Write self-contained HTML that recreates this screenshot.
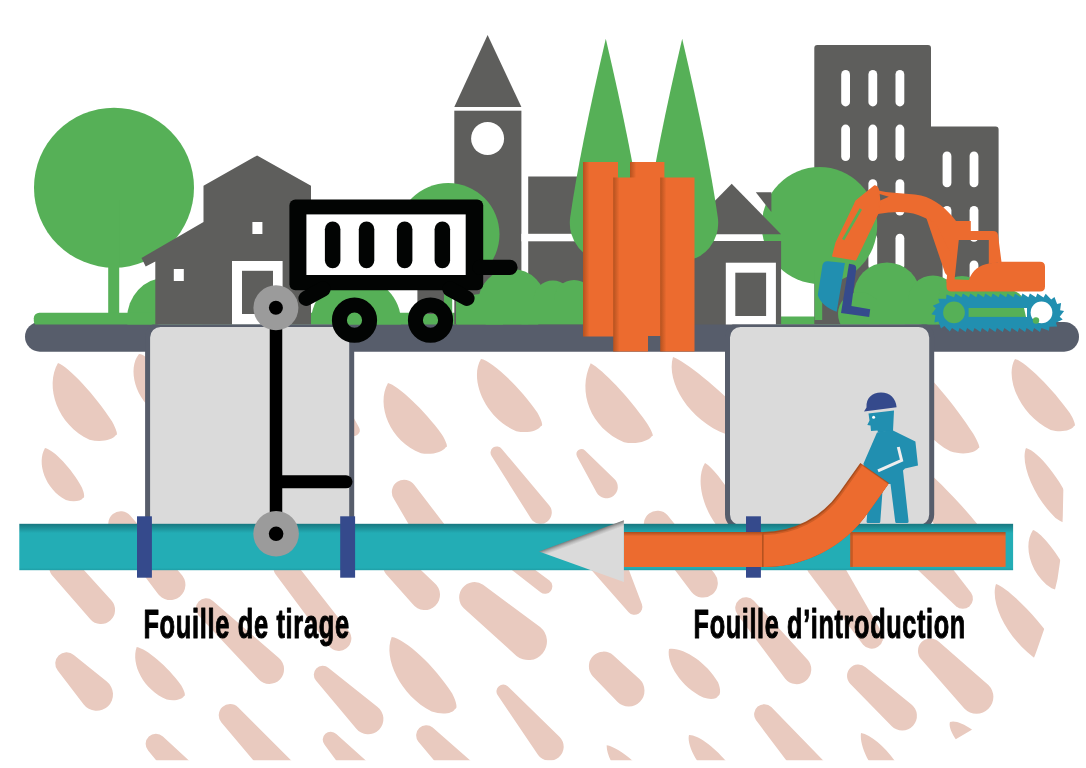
<!DOCTYPE html>
<html lang="fr"><head><meta charset="utf-8"><title>Fouille de tirage / Fouille d’introduction</title>
<style>html,body{margin:0;padding:0;background:#fff}svg{display:block}</style></head>
<body>
<svg width="1086" height="768" viewBox="0 0 1086 768">
<defs>
<clipPath id="sky"><rect x="0" y="0" width="1086" height="324.4"/></clipPath>
<clipPath id="pitc"><rect x="0" y="324.4" width="1086" height="300"/></clipPath>
<clipPath id="soil"><path d="M0 340H1086V440L1064 465L1063.4 487L1062.8 516L1061 555L1057.5 579L1049 615L1037.3 649C1025.3 684 1001.6 712.3 971 730.3L954 740.3C937 750.3 920 760.3 895 760.3H0Z"/></clipPath>
<linearGradient id="tealg" x1="0" y1="0" x2="0" y2="1"><stop offset="0" stop-color="#187780"/><stop offset="0.07" stop-color="#1c8a92"/><stop offset="0.2" stop-color="#23adb5"/><stop offset="0.95" stop-color="#23adb5"/><stop offset="1" stop-color="#1f9da5"/></linearGradient>
<linearGradient id="orgv" x1="0" y1="0" x2="0" y2="1"><stop offset="0" stop-color="#a94d1d"/><stop offset="0.12" stop-color="#ec6b2f"/><stop offset="1" stop-color="#ec6b2f"/></linearGradient>
<linearGradient id="orgh" x1="0" y1="0" x2="1" y2="0"><stop offset="0" stop-color="#b5521f"/><stop offset="0.18" stop-color="#ec6b2f"/><stop offset="1" stop-color="#ec6b2f"/></linearGradient>
<linearGradient id="arr" gradientUnits="userSpaceOnUse" x1="581" y1="536" x2="582.9" y2="541.2"><stop offset="0" stop-color="#7c7c7c"/><stop offset="0.5" stop-color="#b5b5b5"/><stop offset="1" stop-color="#dadada"/></linearGradient>
<filter id="tf" x="-5%" y="-20%" width="110%" height="140%"><feOffset dx="0" dy="0"/></filter>
</defs>
<rect width="1086" height="768" fill="#fff"/>
<g clip-path="url(#soil)" fill="#e9cabf">
<path d="M58.0,363.0 C44.3,386.5 57.5,425.1 89.5,439.7 C100.7,442.6 112.5,440.2 116.0,435.0 C118.2,435.6 116.6,429.7 112.1,421.5 C95.1,394.8 68.6,366.9 58.0,363.0Z"/>
<path d="M45.0,448.0 C36.3,462.9 45.1,489.0 65.9,500.0 C73.1,502.3 80.7,501.3 83.0,498.0 C84.9,498.2 84.5,493.7 82.0,487.7 C71.9,468.6 53.6,449.7 45.0,448.0Z"/>
<path d="M139.0,354.0 C127.1,368.3 135.1,400.4 158.0,413.6 C166.2,416.6 175.1,415.7 178.0,412.0 C180.3,412.1 180.6,406.9 178.5,399.9 C169.2,377.5 148.0,354.2 139.0,354.0Z"/>
<path d="M136.7,647.0 C130.6,664.3 143.5,689.7 166.7,699.5 C174.6,701.3 182.2,699.6 184.0,696.0 C185.9,696.0 184.8,691.4 181.3,685.4 C167.7,666.3 146.6,648.8 136.7,647.0Z"/>
<path d="M388.0,383.0 C375.5,404.8 390.1,441.7 421.0,453.3 C431.8,455.2 442.8,452.2 446.0,447.0 C448.2,447.4 446.5,441.9 441.9,434.4 C424.8,410.3 397.4,385.0 388.0,383.0Z"/>
<path d="M481.0,359.0 C468.8,379.0 485.1,418.1 516.3,431.2 C527.1,433.6 538.0,431.1 541.0,426.0 C543.4,426.3 541.9,420.4 537.3,412.4 C520.0,386.9 490.3,359.7 481.0,359.0Z"/>
<path d="M590.7,363.3 C577.1,391.5 590.3,428.3 624.0,442.2 C635.9,444.6 648.3,441.6 652.0,436.0 C654.1,436.7 652.0,431.1 646.8,422.9 C628.3,396.3 602.8,369.9 590.7,363.3Z"/>
<path d="M391.7,637.0 C382.8,658.2 400.6,695.6 431.7,711.6 C442.3,715.1 452.6,713.7 455.0,709.0 C457.8,709.1 456.7,702.4 452.2,693.6 C434.7,665.6 404.9,638.8 391.7,637.0Z"/>
<path d="M606.7,745.3 C606.2,758.9 621.4,781.3 642.0,794.1 C648.7,797.3 654.4,797.6 655.0,795.0 C657.1,794.9 656.2,789.9 652.7,783.7 C639.3,763.9 618.3,747.1 606.7,745.3Z"/>
<path d="M673.0,357.0 C665.6,381.9 689.7,421.0 726.3,434.3 C738.5,436.6 749.8,433.6 752.0,428.0 C754.3,428.6 751.0,422.8 743.9,414.7 C719.1,388.4 684.5,360.9 673.0,357.0Z"/>
<path d="M705.0,463.0 C693.8,480.9 704.4,519.0 730.4,539.9 C739.5,545.1 749.1,545.9 752.0,542.0 C754.1,542.9 753.4,536.9 750.0,528.2 C737.1,499.5 714.9,468.3 705.0,463.0Z"/>
<path d="M916.0,366.0 C901.6,390.6 916.1,433.4 950.3,451.3 C962.3,455.2 974.8,453.4 978.5,448.0 C980.7,448.9 978.5,442.8 973.3,433.8 C954.4,404.1 926.4,371.7 916.0,366.0Z"/>
<path d="M913.0,460.0 C903.5,484.4 924.8,526.3 960.6,543.6 C972.7,547.3 984.4,545.4 987.0,540.0 C989.2,541.0 985.9,535.1 979.3,526.4 C955.9,497.5 923.6,465.8 913.0,460.0Z"/>
<path d="M669.0,649.0 C666.2,663.7 681.4,687.1 703.3,697.6 C710.5,699.9 717.0,699.0 718.0,696.0 C720.7,695.1 720.9,689.1 718.0,682.3 C705.9,661.6 682.4,646.8 669.0,649.0Z"/>
<path d="M689.0,735.0 C685.9,746.7 702.5,774.3 724.0,788.7 C731.0,792.3 737.1,792.7 738.0,790.0 C740.5,789.7 740.3,784.0 737.2,776.9 C724.5,754.6 699.7,734.3 689.0,735.0Z"/>
<path d="M861.0,733.0 C859.0,746.9 872.2,772.4 891.8,789.0 C898.3,793.3 904.1,794.5 905.0,792.0 C907.5,791.9 907.8,786.2 905.3,778.9 C894.7,755.6 874.2,735.5 861.0,733.0Z"/>
<path d="M950.0,722.0 C947.0,730.0 961.8,751.3 979.0,760.4 C984.6,762.5 989.4,762.2 990.0,760.0 C992.2,759.3 992.3,754.4 990.0,748.8 C980.1,732.0 958.0,718.4 950.0,722.0Z"/>
<path d="M1015.0,359.0 C1004.0,377.6 1020.5,416.0 1050.7,429.9 C1061.0,432.7 1071.3,430.7 1074.0,426.0 C1076.2,426.4 1074.5,420.8 1069.8,413.1 C1052.4,387.9 1023.6,360.4 1015.0,359.0Z"/>
<path d="M1026.0,448.0 C1020.0,462.5 1033.2,496.9 1055.5,517.9 C1063.1,523.4 1070.4,525.1 1072.0,522.0 C1074.7,522.4 1075.0,516.0 1072.4,507.4 C1061.3,479.4 1038.2,451.2 1026.0,448.0Z"/>
<path d="M1033.0,530.0 C1022.6,545.2 1030.1,574.3 1051.6,588.3 C1059.2,591.6 1067.3,591.3 1070.0,588.0 C1071.9,588.4 1071.7,583.6 1069.4,577.0 C1059.8,555.3 1041.8,533.0 1033.0,530.0Z"/>
<path d="M996.0,584.0 C989.3,603.7 1009.2,642.4 1040.1,661.8 C1050.4,666.4 1060.1,666.3 1062.0,662.0 C1064.5,662.5 1062.7,656.0 1057.6,647.0 C1038.3,617.8 1008.1,587.8 996.0,584.0Z"/>
<path d="M577.0,456.4 A5.1,5.1 0 0 1 585.0,450.4 L614.4,478.9 A11.3,11.3 0 1 1 596.6,492.4Z"/>
<path d="M111.1,531.5 A12.4,12.4 0 0 1 130.4,515.8 L181.0,574.0 A15.3,15.3 0 1 1 157.3,593.1Z"/>
<path d="M51.8,574.9 A13.6,13.6 0 0 1 72.1,556.9 L111.5,600.5 A14.1,14.1 0 1 1 90.3,619.3Z"/>
<path d="M275.9,574.8 A11.3,11.3 0 0 1 293.9,561.0 L348.8,630.9 A12.4,12.4 0 1 1 329.0,646.0Z"/>
<path d="M198.6,615.5 A10.2,10.2 0 0 1 212.7,600.8 L278.9,658.1 A14.7,14.7 0 1 1 258.6,679.3Z"/>
<path d="M57.7,670.6 A11.3,11.3 0 0 1 73.8,654.9 L106.8,681.6 A16.4,16.4 0 1 1 83.5,704.3Z"/>
<path d="M221.4,722.6 A11.3,11.3 0 0 1 238.0,707.3 L295.4,764.6 A14.7,14.7 0 1 1 273.8,784.5Z"/>
<path d="M148.1,750.5 A10.2,10.2 0 0 1 162.9,736.5 L199.2,770.0 A13.6,13.6 0 1 1 179.5,788.6Z"/>
<path d="M316.1,680.8 A9.0,9.0 0 0 1 328.6,667.9 L377.3,706.8 A15.3,15.3 0 1 1 356.1,728.5Z"/>
<path d="M324.6,744.7 A7.9,7.9 0 0 1 336.3,734.1 L368.3,762.7 A12.4,12.4 0 1 1 350.0,779.3Z"/>
<path d="M491.7,456.3 A6.2,6.2 0 0 1 501.8,449.0 L549.1,505.2 A11.3,11.3 0 1 1 530.9,518.5Z"/>
<path d="M393.8,498.8 A12.4,12.4 0 0 1 414.4,485.0 L458.5,542.7 A16.9,16.9 0 1 1 430.4,561.5Z"/>
<path d="M500.8,561.3 A6.8,6.8 0 0 1 509.1,550.6 L549.4,580.6 A7.3,7.3 0 1 1 540.5,592.3Z"/>
<path d="M646.2,531.9 A13.6,13.6 0 0 1 667.6,515.2 L714.7,573.8 A14.7,14.7 0 1 1 691.5,591.9Z"/>
<path d="M327.9,412.3 A10.2,10.2 0 1 1 343.9,400.1 L358.9,427.3 A5.6,5.6 0 0 1 350.0,434.0Z"/>
<path d="M385.9,574.0 A13.6,13.6 0 0 1 405.4,555.2 L434.5,583.0 A15.3,15.3 0 1 1 412.6,604.1Z"/>
<path d="M463.8,608.3 A15.3,15.3 0 0 1 483.1,584.7 L540.1,627.0 A18.6,18.6 0 1 1 516.5,655.9Z"/>
<path d="M591.4,569.9 A18.1,18.1 0 1 1 621.9,551.6 L641.9,604.2 A7.9,7.9 0 0 1 628.6,612.2Z"/>
<path d="M497.4,694.8 A6.8,6.8 0 0 1 507.7,686.2 L559.7,736.9 A14.1,14.1 0 1 1 538.1,754.9Z"/>
<path d="M592.7,676.2 A14.7,14.7 0 0 1 613.2,655.2 L639.7,679.3 A15.8,15.8 0 1 1 617.6,702.0Z"/>
<path d="M418.2,741.5 A10.2,10.2 0 0 1 432.7,727.4 L477.7,767.0 A14.7,14.7 0 1 1 456.7,787.4Z"/>
<path d="M737.4,614.4 A10.7,10.7 0 0 1 753.9,600.8 L807.9,660.1 A14.7,14.7 0 1 1 785.2,678.8Z"/>
<path d="M808.5,572.2 A16.9,16.9 0 1 1 836.7,553.6 L881.7,632.0 A11.3,11.3 0 0 1 862.9,644.4Z"/>
<path d="M918.2,570.2 A14.1,14.1 0 1 1 939.2,551.4 L971.1,592.8 A10.2,10.2 0 0 1 956.0,606.3Z"/>
<path d="M850.4,683.9 A11.3,11.3 0 0 1 865.6,667.2 L911.2,704.2 A14.7,14.7 0 1 1 891.5,725.9Z"/>
<path d="M921.6,659.7 A12.4,12.4 0 0 1 939.2,642.1 L988.4,684.9 A16.9,16.9 0 1 1 964.5,708.8Z"/>
<path d="M755.9,720.1 A10.2,10.2 0 0 1 771.3,706.9 L829.0,766.4 A15.3,15.3 0 1 1 805.8,786.2Z"/>
</g>
<rect x="25" y="322" width="1054" height="29.7" rx="14.85" fill="#575d6b"/>
<g clip-path="url(#sky)">
<circle cx="114" cy="187.7" r="80" fill="#56b057"/>
<rect x="108.2" y="200" width="11" height="118" fill="#56b057"/>
<ellipse cx="165" cy="319" rx="38" ry="41" fill="#56b057"/>
<rect x="33.8" y="312.7" width="560" height="14" rx="5.6" fill="#56b057"/>
<rect x="776" y="316.6" width="268" height="10" rx="4" fill="#56b057"/>
<path d="M814.3 324V48q0-3 3-3H928q3 0 3 3V126.4H995.6q3 0 3 3V324Z" fill="#5e5e5c"/>
<rect x="841.2" y="70.0" width="8.8" height="36.4" rx="4.4" fill="#fff"/>
<rect x="841.2" y="124.6" width="8.8" height="36.4" rx="4.4" fill="#fff"/>
<rect x="841.2" y="179.2" width="8.8" height="36.4" rx="4.4" fill="#fff"/>
<rect x="841.2" y="233.8" width="8.8" height="36.4" rx="4.4" fill="#fff"/>
<rect x="868.4" y="70.0" width="8.8" height="36.4" rx="4.4" fill="#fff"/>
<rect x="868.4" y="124.6" width="8.8" height="36.4" rx="4.4" fill="#fff"/>
<rect x="868.4" y="179.2" width="8.8" height="36.4" rx="4.4" fill="#fff"/>
<rect x="868.4" y="233.8" width="8.8" height="36.4" rx="4.4" fill="#fff"/>
<rect x="895.5" y="70.0" width="8.8" height="36.4" rx="4.4" fill="#fff"/>
<rect x="895.5" y="124.6" width="8.8" height="36.4" rx="4.4" fill="#fff"/>
<rect x="895.5" y="179.2" width="8.8" height="36.4" rx="4.4" fill="#fff"/>
<rect x="895.5" y="233.8" width="8.8" height="36.4" rx="4.4" fill="#fff"/>
<rect x="942.6" y="151.5" width="8.8" height="35.8" rx="4.4" fill="#fff"/>
<rect x="942.6" y="206.0" width="8.8" height="35.8" rx="4.4" fill="#fff"/>
<rect x="942.6" y="260.5" width="8.8" height="35.8" rx="4.4" fill="#fff"/>
<rect x="969.6" y="151.5" width="8.8" height="35.8" rx="4.4" fill="#fff"/>
<rect x="969.6" y="206.0" width="8.8" height="35.8" rx="4.4" fill="#fff"/>
<rect x="969.6" y="260.5" width="8.8" height="35.8" rx="4.4" fill="#fff"/>
<path d="M454.3 106.9L487.6 35L521.4 106.9Z" fill="#5e5e5c"/>
<rect x="454.3" y="110.7" width="67.1" height="214" fill="#5e5e5c"/>
<circle cx="487.6" cy="138.5" r="16.5" fill="#fff"/>
<rect x="528.2" y="176.5" width="75" height="148" fill="#5e5e5c"/>
<rect x="521.4" y="233.8" width="80" height="7.5" fill="#fff"/>
<rect x="417.4" y="280" width="26.6" height="34" fill="#5e5e5c"/>
<ellipse cx="819.5" cy="225.5" rx="57.7" ry="58.5" fill="#56b057"/>
<rect x="814.6" y="270" width="7.6" height="50" fill="#56b057"/>
<path d="M755.8 192.3H771.4V212Z" fill="#5e5e5c"/>
<path d="M731.7 183.8L781.1 234.2H682Z" fill="#5e5e5c"/>
<rect x="690" y="241" width="91.1" height="84" fill="#5e5e5c"/>
<rect x="725.8" y="262.7" width="50.1" height="63" fill="#fff"/>
<rect x="735.3" y="272.7" width="30.8" height="43.3" fill="#5e5e5c"/>
<path d="M605.8 38.8Q579.8 150.0 570.1 218.0A36 38 0 1 0 641.5 218.0Q631.8 150.0 605.8 38.8Z" fill="#56b057"/>
<path d="M682.2 38.8Q656.2 150.0 646.5 218.0A36 38 0 1 0 717.9 218.0Q708.2 150.0 682.2 38.8Z" fill="#56b057"/>
<circle cx="448.2" cy="234.3" r="51.3" fill="#56b057"/>
<rect x="444" y="270" width="8.2" height="45" fill="#56b057"/>
<circle cx="356.0" cy="322.0" r="45.0" fill="#56b057"/>
<circle cx="480.0" cy="318.0" r="24.0" fill="#56b057"/>
<circle cx="512.0" cy="303.0" r="34.0" fill="#56b057"/>
<circle cx="552.8" cy="300.0" r="19.4" fill="#56b057"/>
<circle cx="574.0" cy="300.0" r="20.0" fill="#56b057"/>
<circle cx="887.0" cy="296.0" r="33.6" fill="#56b057"/>
<circle cx="860.0" cy="314.0" r="22.0" fill="#56b057"/>
<circle cx="933.0" cy="300.0" r="24.5" fill="#56b057"/>
<circle cx="962.0" cy="300.0" r="24.0" fill="#56b057"/>
<circle cx="990.0" cy="304.0" r="22.0" fill="#56b057"/>
<circle cx="1008.0" cy="308.0" r="18.0" fill="#56b057"/>
<rect x="456" y="300" width="130" height="24" fill="#56b057"/>
<rect x="856" y="300" width="170" height="24" fill="#56b057"/>
<path d="M203.5 185.8L257.1 155.5L311 185.8V325H155.3V261.5L145.7 266.5L141.5 258L203.5 222Z" fill="#5e5e5c"/>
<rect x="232" y="261" width="50.6" height="64" fill="#fff"/>
<rect x="242" y="270.8" width="31" height="43.2" fill="#5e5e5c"/>
<rect x="252.4" y="222" width="10" height="12" fill="#fff"/>
<rect x="173.8" y="269" width="10" height="12" fill="#fff"/>
</g>
<rect x="630" y="162" width="34.4" height="174" fill="url(#orgh)"/>
<rect x="583" y="162" width="35" height="174.5" fill="url(#orgh)"/>
<rect x="613.2" y="177.5" width="34.8" height="174" fill="url(#orgh)"/>
<rect x="660.2" y="177.5" width="34.3" height="174" fill="url(#orgh)"/>
<g clip-path="url(#pitc)">
<path d="M147.6 545V337.5a13 13 0 0 1 13-13H338.7a13 13 0 0 1 13 13V545Z" fill="#dadada" stroke="#575d6b" stroke-width="5"/>
<rect x="727.5" y="324.5" width="204.2" height="203" rx="13" fill="#dadada" stroke="#575d6b" stroke-width="5"/>
</g>
<path d="M866.5 407.5C866 398 872 392.6 881 392.6C890 392.6 896 398.5 896.6 407.3L864 411.5Z" fill="#354a8c"/>
<path d="M868.5 413.5L894 410.5L893 431L878 432.5L877.5 430.5L871 431L870.5 425.5L867.3 425L869.5 420.5Z" fill="#218fb0"/>
<circle cx="873.6" cy="417.2" r="1.5" fill="#fff"/>
<path d="M877 432.5L892 430L915.4 441.5L918 465.5L905 468.5L903 470.5L908.6 521.5Q908.6 523 907 523L896.5 523Q895.3 523 895.2 521.5L890.5 484L883 484L880.3 521.5Q880.3 523 879 523L868 523Q866.5 523 866.6 521.5L870 478L863.3 464Z" fill="#218fb0"/>
<path d="M898.3 447L901.6 460.3L878 470.8" fill="none" stroke="#eeeeee" stroke-width="3" stroke-linejoin="miter"/>
<rect x="19.3" y="523.8" width="993.8" height="46.4" fill="url(#tealg)"/>
<rect x="137.0" y="516.3" width="14.9" height="61.4" fill="#354a8c"/>
<rect x="340.2" y="516.3" width="14.9" height="61.4" fill="#354a8c"/>
<rect x="746.0" y="516.3" width="14.9" height="61.4" fill="#354a8c"/>
<rect x="624" y="532" width="140" height="35" fill="url(#orgv)"/>
<rect x="850.3" y="532.1" width="155.3" height="34.8" fill="url(#orgv)"/>
<rect x="850.3" y="532.1" width="2.5" height="34.8" fill="#b5521f" opacity="0.7"/>
<path d="M763 549.5A111 111 0 0 0 853.6 502.7L874.6 473" fill="none" stroke="#a94d1d" stroke-width="35"/>
<path d="M763 550.2A111 111 0 0 0 854.1 503.3L874.9 474" fill="none" stroke="#cd5d26" stroke-width="33.6"/>
<path d="M763 551A111 111 0 0 0 854.7 503.9L875.2 475" fill="none" stroke="#ec6b2f" stroke-width="32"/>
<rect x="762" y="533" width="1.6" height="34" fill="#b5521f"/>
<path d="M539 551.4L623.9 520.2V582Z" fill="url(#arr)"/>
<path d="M276 308V533" stroke="#000" stroke-width="12.5" fill="none"/>
<path d="M281 481.8H346" stroke="#000" stroke-width="13" stroke-linecap="round" fill="none"/>
<circle cx="275.9" cy="307.8" r="22.5" fill="#9b9b9b"/><circle cx="275.9" cy="307.8" r="7" fill="#000"/>
<circle cx="276.1" cy="533.8" r="22.8" fill="#9b9b9b"/><circle cx="276.1" cy="533.8" r="7.3" fill="#000"/>
<rect x="289.4" y="199.6" width="193.8" height="90.7" rx="6" fill="#020403"/>
<rect x="306.4" y="214.4" width="159.3" height="60.6" fill="#fff"/>
<rect x="324.9" y="221.4" width="15.5" height="46.8" rx="7.75" fill="#020403"/>
<rect x="358.8" y="221.4" width="15.5" height="46.8" rx="7.75" fill="#020403"/>
<rect x="396.9" y="221.4" width="15.5" height="46.8" rx="7.75" fill="#020403"/>
<rect x="434.6" y="221.4" width="15.5" height="46.8" rx="7.75" fill="#020403"/>
<path d="M480 267.4H510M323 289L306 298.3M450 289L467 298.3" stroke="#020403" stroke-width="15.2" stroke-linecap="round" fill="none"/>
<circle cx="354.5" cy="320.2" r="15.1" fill="none" stroke="#020403" stroke-width="15"/>
<circle cx="430.5" cy="320.2" r="15.1" fill="none" stroke="#020403" stroke-width="15"/>
<path d="M876 189.5C888 194 905 192.5 921 195.5C935 199 947 209 956 220.9H970.8V231H993Q997.5 231 998 235L1001.5 262L988.8 264V240H958.8L954.3 282H946.5L949 251L935.5 225C930 220 925 217.5 918 215C905 210.5 892 212 877.7 214Z" fill="#ec6b2f"/>
<path d="M926 217L936 224L951 253L948.5 277L945 273Z" fill="#ec6b2f"/>
<path d="M946.5 279L969 280C972 270 980 265 989 263.5L1001 261.7H1040Q1045 261.7 1045 266.7V286.6Q1045 291.6 1040 291.6H951.5Q946.5 291.6 946.5 286.6Z" fill="#ec6b2f"/>
<path d="M874.5 186Q877 186 878 189L880 200L878 213L855.6 259.8L832.8 256L836.3 242.5L854.5 204.5L856 201Z" fill="#ec6b2f" stroke="#ec6b2f" stroke-width="1.5" stroke-linejoin="round"/>
<path d="M860.8 209L843.2 239.7" stroke="#56b057" stroke-width="2.6" fill="none"/>
<path d="M879.7 194L888.8 196.7L880.3 200.6Z" fill="#5e5e5c"/>
<path d="M828 261.2L844.9 263L836.7 311.8C828 309 820 303 817.8 295L822.5 265Q823.5 260.8 828 261.2Z" fill="#218fb0"/>
<path d="M849 263.7L853 264.4Q856.6 265.2 856.2 269L851.4 306L870.2 309.2L869.2 317L841 313Z" fill="#354a8c"/>
<path d="M954.0,297.3 L955.5,293.5 L961.4,297.3 L962.9,293.5 L968.9,297.3 L970.4,293.5 L976.3,297.3 L977.8,293.5 L983.8,297.3 L985.3,293.5 L991.2,297.3 L992.7,293.5 L998.6,297.3 L1000.1,293.5 L1006.1,297.3 L1007.6,293.5 L1013.5,297.3 L1015.0,293.5 L1021.0,297.3 L1022.5,293.5 L1028.4,297.3 L1029.9,293.5 L1035.9,297.3 L1037.3,293.5 L1043.5,297.4 L1045.7,293.8 L1051.2,299.5 L1054.5,296.9 L1057.1,304.0 L1061.1,303.0 L1060.1,310.2 L1064.1,311.1 L1059.7,316.8 L1062.7,319.6 L1055.9,322.7 L1057.2,326.6 L1049.4,326.7 L1049.0,330.8 L1041.5,328.1 L1040.0,331.9 L1034.1,328.1 L1032.6,331.9 L1026.6,328.1 L1025.1,331.9 L1019.2,328.1 L1017.7,331.9 L1011.7,328.1 L1010.2,331.9 L1004.3,328.1 L1002.8,331.9 L996.9,328.1 L995.4,331.9 L989.4,328.1 L987.9,331.9 L982.0,328.1 L980.5,331.9 L974.5,328.1 L973.0,331.9 L967.1,328.1 L965.6,331.9 L959.6,328.1 L958.2,331.9 L952.0,328.0 L949.8,331.6 L944.3,325.9 L941.0,328.5 L938.4,321.4 L934.4,322.4 L935.4,315.2 L931.4,314.3 L935.8,308.6 L932.8,305.8 L939.6,302.7 L938.3,298.8 L946.1,298.7 L946.5,294.6Z" fill="#218fb0"/>
<circle cx="954" cy="312.4" r="10.85" fill="#56b057"/>
<circle cx="1041.5" cy="312.4" r="10.85" fill="#fff"/>
<rect x="968.6" y="308" width="58.4" height="8.9" fill="#56b057"/>
<path d="M1024 308H1027V316.9H1026Z" fill="#fff"/>
<circle cx="1036" cy="320.5" r="3.2" fill="#56b057"/>
<g filter="url(#tf)">
<text transform="translate(143.4 637.5) scale(0.62 1)" font-family="Liberation Sans, sans-serif" font-weight="700" font-size="41" stroke="#000" stroke-width="1.1" stroke-linejoin="round" letter-spacing="1.08" fill="#000">Fouille de tirage</text>
<text transform="translate(693.6 637.5) scale(0.615 1)" font-family="Liberation Sans, sans-serif" font-weight="700" font-size="41" stroke="#000" stroke-width="1.1" stroke-linejoin="round" letter-spacing="1.08" fill="#000">Fouille d’introduction</text>
</g>
</svg>
</body></html>
